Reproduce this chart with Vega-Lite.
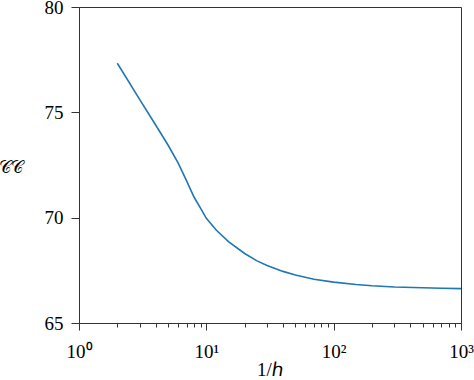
{
  "$schema": "https://vega.github.io/schema/vega-lite/v6.json",
  "width": 382,
  "height": 316,
  "autosize": "none",
  "padding": {"left": 79, "top": 7, "right": 13, "bottom": 57},
  "background": "white",
  "config": {
    "view": {"stroke": "#333333", "strokeWidth": 1},
    "font": "Liberation Serif",
    "axis": {"grid": false, "domainColor": "#333333", "tickColor": "#333333", "labelColor": "black", "titleColor": "black", "labelFont": "Liberation Serif", "titleFont": "Liberation Serif"}
  },
  "data": {
    "values": [
      {"inv_h": 2, "C": 77.33},
      {"inv_h": 3, "C": 75.6},
      {"inv_h": 4, "C": 74.4},
      {"inv_h": 5, "C": 73.45},
      {"inv_h": 6, "C": 72.6},
      {"inv_h": 7, "C": 71.75},
      {"inv_h": 8, "C": 70.98},
      {"inv_h": 9, "C": 70.45},
      {"inv_h": 10, "C": 69.97},
      {"inv_h": 12, "C": 69.4},
      {"inv_h": 15, "C": 68.85},
      {"inv_h": 20, "C": 68.3},
      {"inv_h": 25, "C": 67.95},
      {"inv_h": 30, "C": 67.73},
      {"inv_h": 40, "C": 67.45},
      {"inv_h": 50, "C": 67.28},
      {"inv_h": 70, "C": 67.08},
      {"inv_h": 100, "C": 66.94},
      {"inv_h": 150, "C": 66.83},
      {"inv_h": 200, "C": 66.77},
      {"inv_h": 300, "C": 66.71},
      {"inv_h": 500, "C": 66.67},
      {"inv_h": 700, "C": 66.65},
      {"inv_h": 1000, "C": 66.63}
    ]
  },
  "mark": {"type": "line", "color": "#1f77b4", "strokeWidth": 1.6},
  "encoding": {
    "x": {
      "field": "inv_h",
      "type": "quantitative",
      "scale": {"type": "log", "domain": [1, 1000], "nice": false},
      "axis": {
        "title": "1/ℎ",
        "titleFontSize": 19,
        "titleFontWeight": "normal",
        "titleBaseline": "alphabetic",
        "titleY": 52,
        "values": [1, 2, 3, 4, 5, 6, 7, 8, 9, 10, 20, 30, 40, 50, 60, 70, 80, 90, 100, 200, 300, 400, 500, 600, 700, 800, 900, 1000],
        "tickSize": {"condition": {"test": "indexof([1,10,100,1000], datum.value) >= 0", "value": 7}, "value": 4},
        "labelExpr": "datum.value == 1 ? '10⁰' : datum.value == 10 ? '10¹' : datum.value == 100 ? '10²' : datum.value == 1000 ? '10³' : ''",
        "labelFontSize": 19,
        "labelBaseline": "alphabetic",
        "labelPadding": 27,
        "labelOverlap": false,
        "labelBound": false,
        "labelFlush": false
      }
    },
    "y": {
      "field": "C",
      "type": "quantitative",
      "scale": {"domain": [65, 80], "nice": false, "zero": false},
      "axis": {
        "title": "𝒞𝒞",
        "titleAngle": 0,
        "titleX": -69,
        "titleY": 160,
        "titleAlign": "center",
        "titleBaseline": "middle",
        "titleFontSize": 17,
        "titleFontWeight": "normal",
        "values": [65, 70, 75, 80],
        "tickSize": 8,
        "labelPadding": 8,
        "labelFontSize": 19,
        "labelBaseline": "middle",
        "labelFlush": false,
        "labelOverlap": false
      }
    }
  }
}
